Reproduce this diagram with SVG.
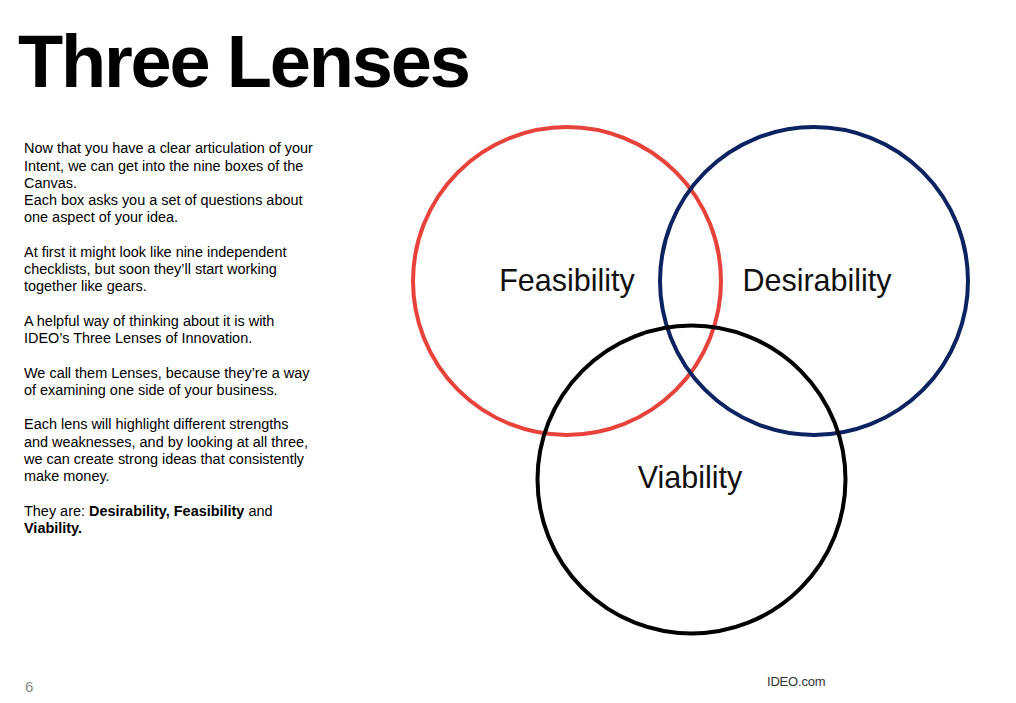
<svg xmlns="http://www.w3.org/2000/svg" width="1016" height="703" viewBox="0 0 1016 703">
<style>
.title{font-family:"Liberation Sans",Arial,sans-serif;font-weight:bold;font-size:74px;fill:#000;letter-spacing:-2.2px}
.body{font-family:"Liberation Sans",Arial,sans-serif;font-size:14.45px;fill:#000}
.b{font-weight:bold}
.lens{fill:none;stroke-width:4}
.label{font-family:"Liberation Sans",Arial,sans-serif;font-size:30.5px;fill:#111;text-anchor:middle}
.foot{font-family:"Liberation Sans",Arial,sans-serif;font-size:13px}
.page{font-size:15px;fill:#888}
</style>
<rect width="1016" height="703" fill="#fff"/>
<text class="title" x="18" y="87">Three Lenses</text>
<g id="body-text">
<text class="body" x="24" y="153.3">Now that you have a clear articulation of your</text>
<text class="body" x="24" y="170.6">Intent, we can get into the nine boxes of the</text>
<text class="body" x="24" y="187.8">Canvas.</text>
<text class="body" x="24" y="205.1">Each box asks you a set of questions about</text>
<text class="body" x="24" y="222.3">one aspect of your idea.</text>
<text class="body" x="24" y="256.8">At first it might look like nine independent</text>
<text class="body" x="24" y="274.1">checklists, but soon they’ll start working</text>
<text class="body" x="24" y="291.3">together like gears.</text>
<text class="body" x="24" y="325.8">A helpful way of thinking about it is with</text>
<text class="body" x="24" y="343.1">IDEO’s Three Lenses of Innovation.</text>
<text class="body" x="24" y="377.6">We call them Lenses, because they’re a way</text>
<text class="body" x="24" y="394.8">of examining one side of your business.</text>
<text class="body" x="24" y="429.3">Each lens will highlight different strengths</text>
<text class="body" x="24" y="446.6">and weaknesses, and by looking at all three,</text>
<text class="body" x="24" y="463.8">we can create strong ideas that consistently</text>
<text class="body" x="24" y="481.1">make money.</text>
<text class="body" x="24" y="515.6">They are: <tspan class="b">Desirability, Feasibility</tspan> and</text>
<text class="body b" x="24" y="532.8">Viability.</text>
</g>
<g id="feasibility">
<circle class="lens" cx="567" cy="281" r="154" stroke="#E8433A"/>
<text class="label" x="567" y="291">Feasibility</text>
</g>
<g id="desirability">
<circle class="lens" cx="814" cy="281" r="154" stroke="#0B2361"/>
<text class="label" x="817" y="291">Desirability</text>
</g>
<g id="viability">
<circle class="lens" cx="691.5" cy="479.5" r="154" stroke="#000"/>
<text class="label" x="690" y="488">Viability</text>
</g>
<g id="connectors"></g>
<text class="foot page" x="25" y="691.5">6</text>
<text class="foot" x="767" y="685.7" fill="#333" letter-spacing="-0.2">IDEO.com</text>
</svg>
